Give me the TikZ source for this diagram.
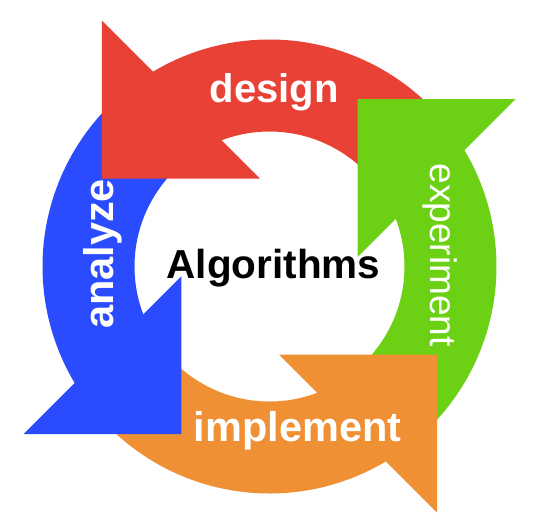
\documentclass[tikz,border=0pt]{standalone}
\usepackage{fontspec}
\setmainfont{Liberation Sans}
\definecolor{cred}{HTML}{E84136}
\definecolor{cblue}{HTML}{2B4BFF}
\definecolor{cgreen}{HTML}{6CD114}
\definecolor{corange}{HTML}{F09035}
\begin{document}
\begin{tikzpicture}[x=1pt,y=1pt,
  ringlabel/.style={text=white,inner sep=0pt,anchor=base,font=\fontsize{40}{48}\selectfont\bfseries},
  centrelabel/.style={text=black,inner sep=0pt,anchor=base,font=\fontsize{40.5}{48}\selectfont\bfseries}]
\useasboundingbox (-269.5,-264.5) rectangle (263.5,266.5);
% shafts (ring segments), each clipped at its own arrow head
\foreach \rot/\col in {0/cred,-90/cgreen,-180/corange,-270/cblue}{
  \begin{scope}[rotate=\rot]
    \clip (-400,477) -- (400,-323) -- (1400,677) -- (600,1477) -- cycle;
    \fill[\col] (38:227) arc[start angle=38,end angle=135,radius=227]
      -- (135:135) arc[start angle=135,end angle=38,radius=135] -- cycle;
  \end{scope}
}
% arrow heads
\foreach \rot/\col in {0/cred,-90/cgreen,-180/corange,-270/cblue}{
  \fill[\col,rotate=\rot] (-167.5,88) -- (-167.5,246) -- (-9.5,88) -- cycle;
}
% labels
\node[ringlabel] (design) at (4.7,163.8) {design};
\node[ringlabel,font=\fontsize{41.5}{48}\selectfont\bfseries] (implement) at (28,-175.2) {implement};
\node[ringlabel,rotate=90,font=\fontsize{41.5}{48}\selectfont\bfseries] (analyze) at (-156.2,12.5) {analyze};
\node[ringlabel,rotate=-90,font=\fontsize{37}{44}\selectfont] (experiment) at (160.5,11.5) {experiment};
\node[centrelabel] (alg) at (4,-11.5) {Algorithms};
\end{tikzpicture}
\end{document}
